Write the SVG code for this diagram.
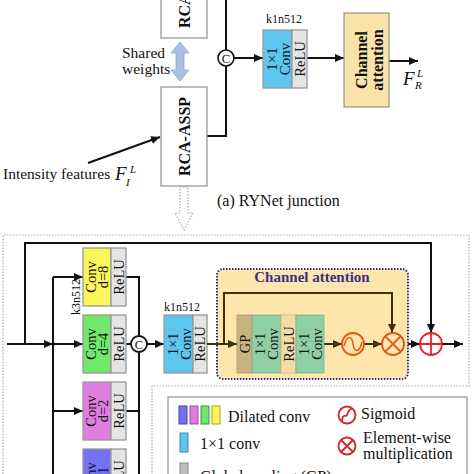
<svg xmlns="http://www.w3.org/2000/svg" width="474" height="474" viewBox="0 0 474 474" font-family="'Liberation Serif', 'Times New Roman', serif">
<style>
text{font-family:'Liberation Serif','Times New Roman',serif;fill:#111}
.r{text-anchor:middle;dominant-baseline:central}
.b{font-weight:bold}
.s{font-size:14.5px}
.box{stroke:#999;stroke-width:1.3}
.ln{fill:none;stroke:#111;stroke-width:2}
.ol{fill:none;stroke:#3d3210;stroke-width:2}
.relu{fill:#e4e4e4}
.dot{fill:none;stroke:#aaa;stroke-width:1.2;stroke-dasharray:1.5 1.5}
</style>
<defs>
<marker id="ah" markerUnits="userSpaceOnUse" markerWidth="10" markerHeight="8" refX="9" refY="4" orient="auto"><path d="M0,0 L9,4 L0,8 z" fill="#111"/></marker>
<marker id="ao" markerUnits="userSpaceOnUse" markerWidth="10" markerHeight="8" refX="9" refY="4" orient="auto"><path d="M0,0 L9,4 L0,8 z" fill="#3d3210"/></marker>
</defs>
<rect width="474" height="474" fill="#fff"/>

<g id="connectors">
<path class="ln" d="M226,0 V50 M226,66 V136 H207"/>
<path class="ln" d="M234,58 H263" marker-end="url(#ah)"/>
<path class="ln" d="M307,58 H344" marker-end="url(#ah)"/>
<path class="ln" d="M389,61 H418" marker-end="url(#ah)"/>
<path class="ln" d="M88,163 L160,137" marker-end="url(#ah)"/>
<path d="M180,187 H188 V213 H193 L184,230 L175,213 H180 Z" fill="none" stroke="#aaa" stroke-width="1.2" stroke-dasharray="1.5 1.5"/>
<path class="ln" d="M7,344 H53" marker-end="url(#ah)"/>
<path class="ln" d="M25,344 V243 H431 V333" marker-end="url(#ah)"/>
<path class="ln" d="M53,277 V474"/>
<path class="ln" d="M53,277 H83" marker-end="url(#ah)"/>
<path class="ln" d="M53,344 H83" marker-end="url(#ah)"/>
<path class="ln" d="M53,411 H83" marker-end="url(#ah)"/>
<path class="ln" d="M126,277 H139 V336 M139,352 V474 M126,411 H139"/>
<path class="ln" d="M126,344 H131"/>
<path class="ln" d="M147,344 H164" marker-end="url(#ah)"/>
<path class="ln" d="M404,344 H420" marker-end="url(#ah)"/>
<path class="ln" d="M442,344 H463" marker-end="url(#ah)"/>
</g>

<g id="rca-top">
<rect class="box" x="161" y="-61" width="46" height="99" fill="#fff"/>
<text class="r b" font-size="16" transform="translate(184,-11.5) rotate(-90)">RCA-ASSP</text>
</g>
<g id="shared-weights">
<path d="M180,42 L189,53 H184 V70 H189 L180,81 L171,70 H176 V53 H171 Z" fill="#a9c0e2" stroke="#8ea7cc" stroke-width="0.8"/>
<text x="122" y="58" font-size="15.5">Shared</text>
<text x="122" y="74" font-size="15.5">weights</text>
</g>
<g id="rca-assp">
<rect class="box" x="161" y="87" width="46" height="99" fill="#fff"/>
<text class="r b" font-size="16" transform="translate(184,136.5) rotate(-90)">RCA-ASSP</text>
</g>
<g id="concat-a">
<circle cx="226" cy="58" r="8" fill="#fff" stroke="#111" stroke-width="1.6"/>
<text class="r" x="226" y="58.5" font-size="12.5">C</text>
</g>
<g id="conv1x1-a">
<text x="284" y="23" font-size="12" text-anchor="middle">k1n512</text>
<rect class="box" x="263" y="30" width="29" height="58" fill="#5cc6ef"/>
<rect class="box relu" x="292" y="30" width="15" height="58"/>
<text class="r" font-size="15" transform="translate(271.5,59) rotate(-90)">1×1</text>
<text class="r" font-size="15" transform="translate(285,59) rotate(-90)">Conv</text>
<text class="r" font-size="14.5" transform="translate(300,59) rotate(-90)">ReLU</text>
</g>
<g id="ca-a">
<rect class="box" x="344" y="13" width="45" height="94" fill="#fae3a9"/>
<text class="r b" font-size="16" transform="translate(361,60) rotate(-90)">Channel</text>
<text class="r b" font-size="16" transform="translate(377,60) rotate(-90)">attention</text>
</g>
<g id="out-a">
<text x="403" y="85" font-size="19" font-style="italic">F</text>
<text x="415" y="89" font-size="11" font-style="italic">R</text>
<text x="417" y="77" font-size="11" font-style="italic">L</text>
</g>
<g id="in-a">
<text x="3" y="179" font-size="15.5">Intensity features</text>
<text x="115" y="180" font-size="19" font-style="italic">F</text>
<text x="126" y="186" font-size="11" font-style="italic">I</text>
<text x="130" y="173" font-size="11" font-style="italic">L</text>
</g>
<text x="217" y="206" font-size="16">(a) RYNet junction</text>

<path class="dot" d="M3,474 V235 H469 V386 H152 V474"/>
<text class="r" font-size="12" transform="translate(76,297) rotate(-90)">k3n512</text>
<g id="conv-d8">
<rect class="box" x="83" y="248" width="28" height="58" fill="#fbf65c"/>
<rect class="box relu" x="111" y="248" width="15" height="58"/>
<text class="r s" transform="translate(90.5,277) rotate(-90)">Conv</text>
<text class="r s" transform="translate(103,277) rotate(-90)">d=8</text>
<text class="r s" transform="translate(118.5,277) rotate(-90)">ReLU</text>
</g>
<g id="conv-d4">
<rect class="box" x="83" y="315" width="28" height="58" fill="#6fe86c"/>
<rect class="box relu" x="111" y="315" width="15" height="58"/>
<text class="r s" transform="translate(90.5,344) rotate(-90)">Conv</text>
<text class="r s" transform="translate(103,344) rotate(-90)">d=4</text>
<text class="r s" transform="translate(118.5,344) rotate(-90)">ReLU</text>
</g>
<g id="conv-d2">
<rect class="box" x="83" y="382" width="28" height="58" fill="#e07ee0"/>
<rect class="box relu" x="111" y="382" width="15" height="58"/>
<text class="r s" transform="translate(90.5,411) rotate(-90)">Conv</text>
<text class="r s" transform="translate(103,411) rotate(-90)">d=2</text>
<text class="r s" transform="translate(118.5,411) rotate(-90)">ReLU</text>
</g>
<g id="conv-d1">
<rect class="box" x="83" y="449" width="28" height="58" fill="#7272f2"/>
<rect class="box relu" x="111" y="449" width="15" height="58"/>
<text class="r s" transform="translate(90.5,478) rotate(-90)">Conv</text>
<text class="r s" transform="translate(103,478) rotate(-90)">d=1</text>
<text class="r s" transform="translate(118.5,478) rotate(-90)">ReLU</text>
</g>
<g id="concat-b">
<circle cx="139" cy="344" r="8" fill="#fff" stroke="#111" stroke-width="1.8"/>
<text class="r" x="139" y="344.5" font-size="12.5">C</text>
</g>
<g id="conv1x1-b">
<text x="182" y="311" font-size="12" text-anchor="middle">k1n512</text>
<rect class="box" x="164" y="315" width="29" height="58" fill="#5cc6ef"/>
<rect class="box relu" x="193" y="315" width="14" height="58"/>
<text class="r s" transform="translate(172.5,344) rotate(-90)">1×1</text>
<text class="r s" transform="translate(186,344) rotate(-90)">Conv</text>
<text class="r s" transform="translate(200,344) rotate(-90)">ReLU</text>
</g>
<g id="ca-b">
<rect x="217" y="269" width="191" height="110" rx="6" fill="#fde5ab" stroke="#2d2d86" stroke-width="2" stroke-dasharray="1.5 1.5"/>
<text x="312" y="282" font-size="15" class="b" text-anchor="middle" style="fill:#3a2f8a">Channel attention</text>
<path class="ol" d="M207,344 H237" marker-end="url(#ao)"/>
<path class="ol" d="M224,344 V293 H392 V333" marker-end="url(#ao)"/>
<path class="ol" d="M324,344 H342" marker-end="url(#ao)"/>
<path class="ol" d="M364,344 H382" marker-end="url(#ao)"/>
<rect x="237" y="315" width="15" height="58" fill="#c9b47f" stroke="#aa9a70" stroke-width="0.8"/>
<rect x="252" y="315" width="29" height="58" fill="#8ecfa3" stroke="#7ab08c" stroke-width="0.8"/>
<rect x="281" y="315" width="15" height="58" fill="#f3dba3" stroke="#c8b890" stroke-width="0.8"/>
<rect x="296" y="315" width="28" height="58" fill="#8ecfa3" stroke="#7ab08c" stroke-width="0.8"/>
<text class="r s" transform="translate(244.5,344) rotate(-90)">GP</text>
<text class="r s" transform="translate(259.5,344) rotate(-90)">1×1</text>
<text class="r s" transform="translate(273,344) rotate(-90)">Conv</text>
<text class="r s" transform="translate(288.5,344) rotate(-90)">ReLU</text>
<text class="r s" transform="translate(303.5,344) rotate(-90)">1×1</text>
<text class="r s" transform="translate(317,344) rotate(-90)">Conv</text>
</g>
<g id="sigmoid">
<circle cx="353" cy="344" r="11" fill="none" stroke="#e0561b" stroke-width="1.8"/>
<path d="M344,346 C347,334 352,336 353,344 C354,352 359,354 362,342" fill="none" stroke="#e0561b" stroke-width="1.5"/>
</g>
<g id="multiply">
<circle cx="393" cy="344" r="11" fill="none" stroke="#e0561b" stroke-width="1.8"/>
<path d="M385.2,336.2 L400.8,351.8 M400.8,336.2 L385.2,351.8" stroke="#e0561b" stroke-width="1.8"/>
</g>
<g id="add">
<circle cx="431" cy="344" r="11" fill="none" stroke="#e2232c" stroke-width="1.8"/>
<path d="M420,344 H442 M431,333 V355" stroke="#e2232c" stroke-width="1.8"/>
</g>

<g id="legend">
<rect x="168" y="397" width="299" height="90" fill="#fff" stroke="#999" stroke-width="1.3"/>
<rect x="179" y="406" width="8" height="18" fill="#7272f2" stroke="#4646a0" stroke-width="1"/>
<rect x="190" y="406" width="8" height="18" fill="#e07ee0" stroke="#9a4c9a" stroke-width="1"/>
<rect x="201" y="406" width="8" height="18" fill="#6fe86c" stroke="#3f9a3c" stroke-width="1"/>
<rect x="212" y="406" width="8" height="18" fill="#fbf65c" stroke="#a8a030" stroke-width="1"/>
<text x="228" y="422" font-size="16">Dilated conv</text>
<rect x="180" y="433" width="8" height="19" fill="#5cc6ef" stroke="#3a88a8" stroke-width="1"/>
<text x="200" y="449" font-size="16">1×1 conv</text>
<rect x="180" y="463" width="8" height="18" fill="#bdbdbd" stroke="#888" stroke-width="1"/>
<text x="200" y="482" font-size="16">Global pooling (GP)</text>
<circle cx="347" cy="415" r="8.5" fill="none" stroke="#d8232a" stroke-width="1.8"/>
<path d="M342,421 C343,412 346,418 347,415 C348,412 350,408 352,409" fill="none" stroke="#d8232a" stroke-width="1.8"/>
<text x="361" y="419" font-size="16">Sigmoid</text>
<circle cx="347" cy="446" r="8.5" fill="none" stroke="#d8232a" stroke-width="1.8"/>
<path d="M341,440 L353,452 M353,440 L341,452" stroke="#d8232a" stroke-width="1.8"/>
<text x="363" y="443" font-size="16">Element-wise</text>
<text x="363" y="459" font-size="16">multiplication</text>
</g>
</svg>
